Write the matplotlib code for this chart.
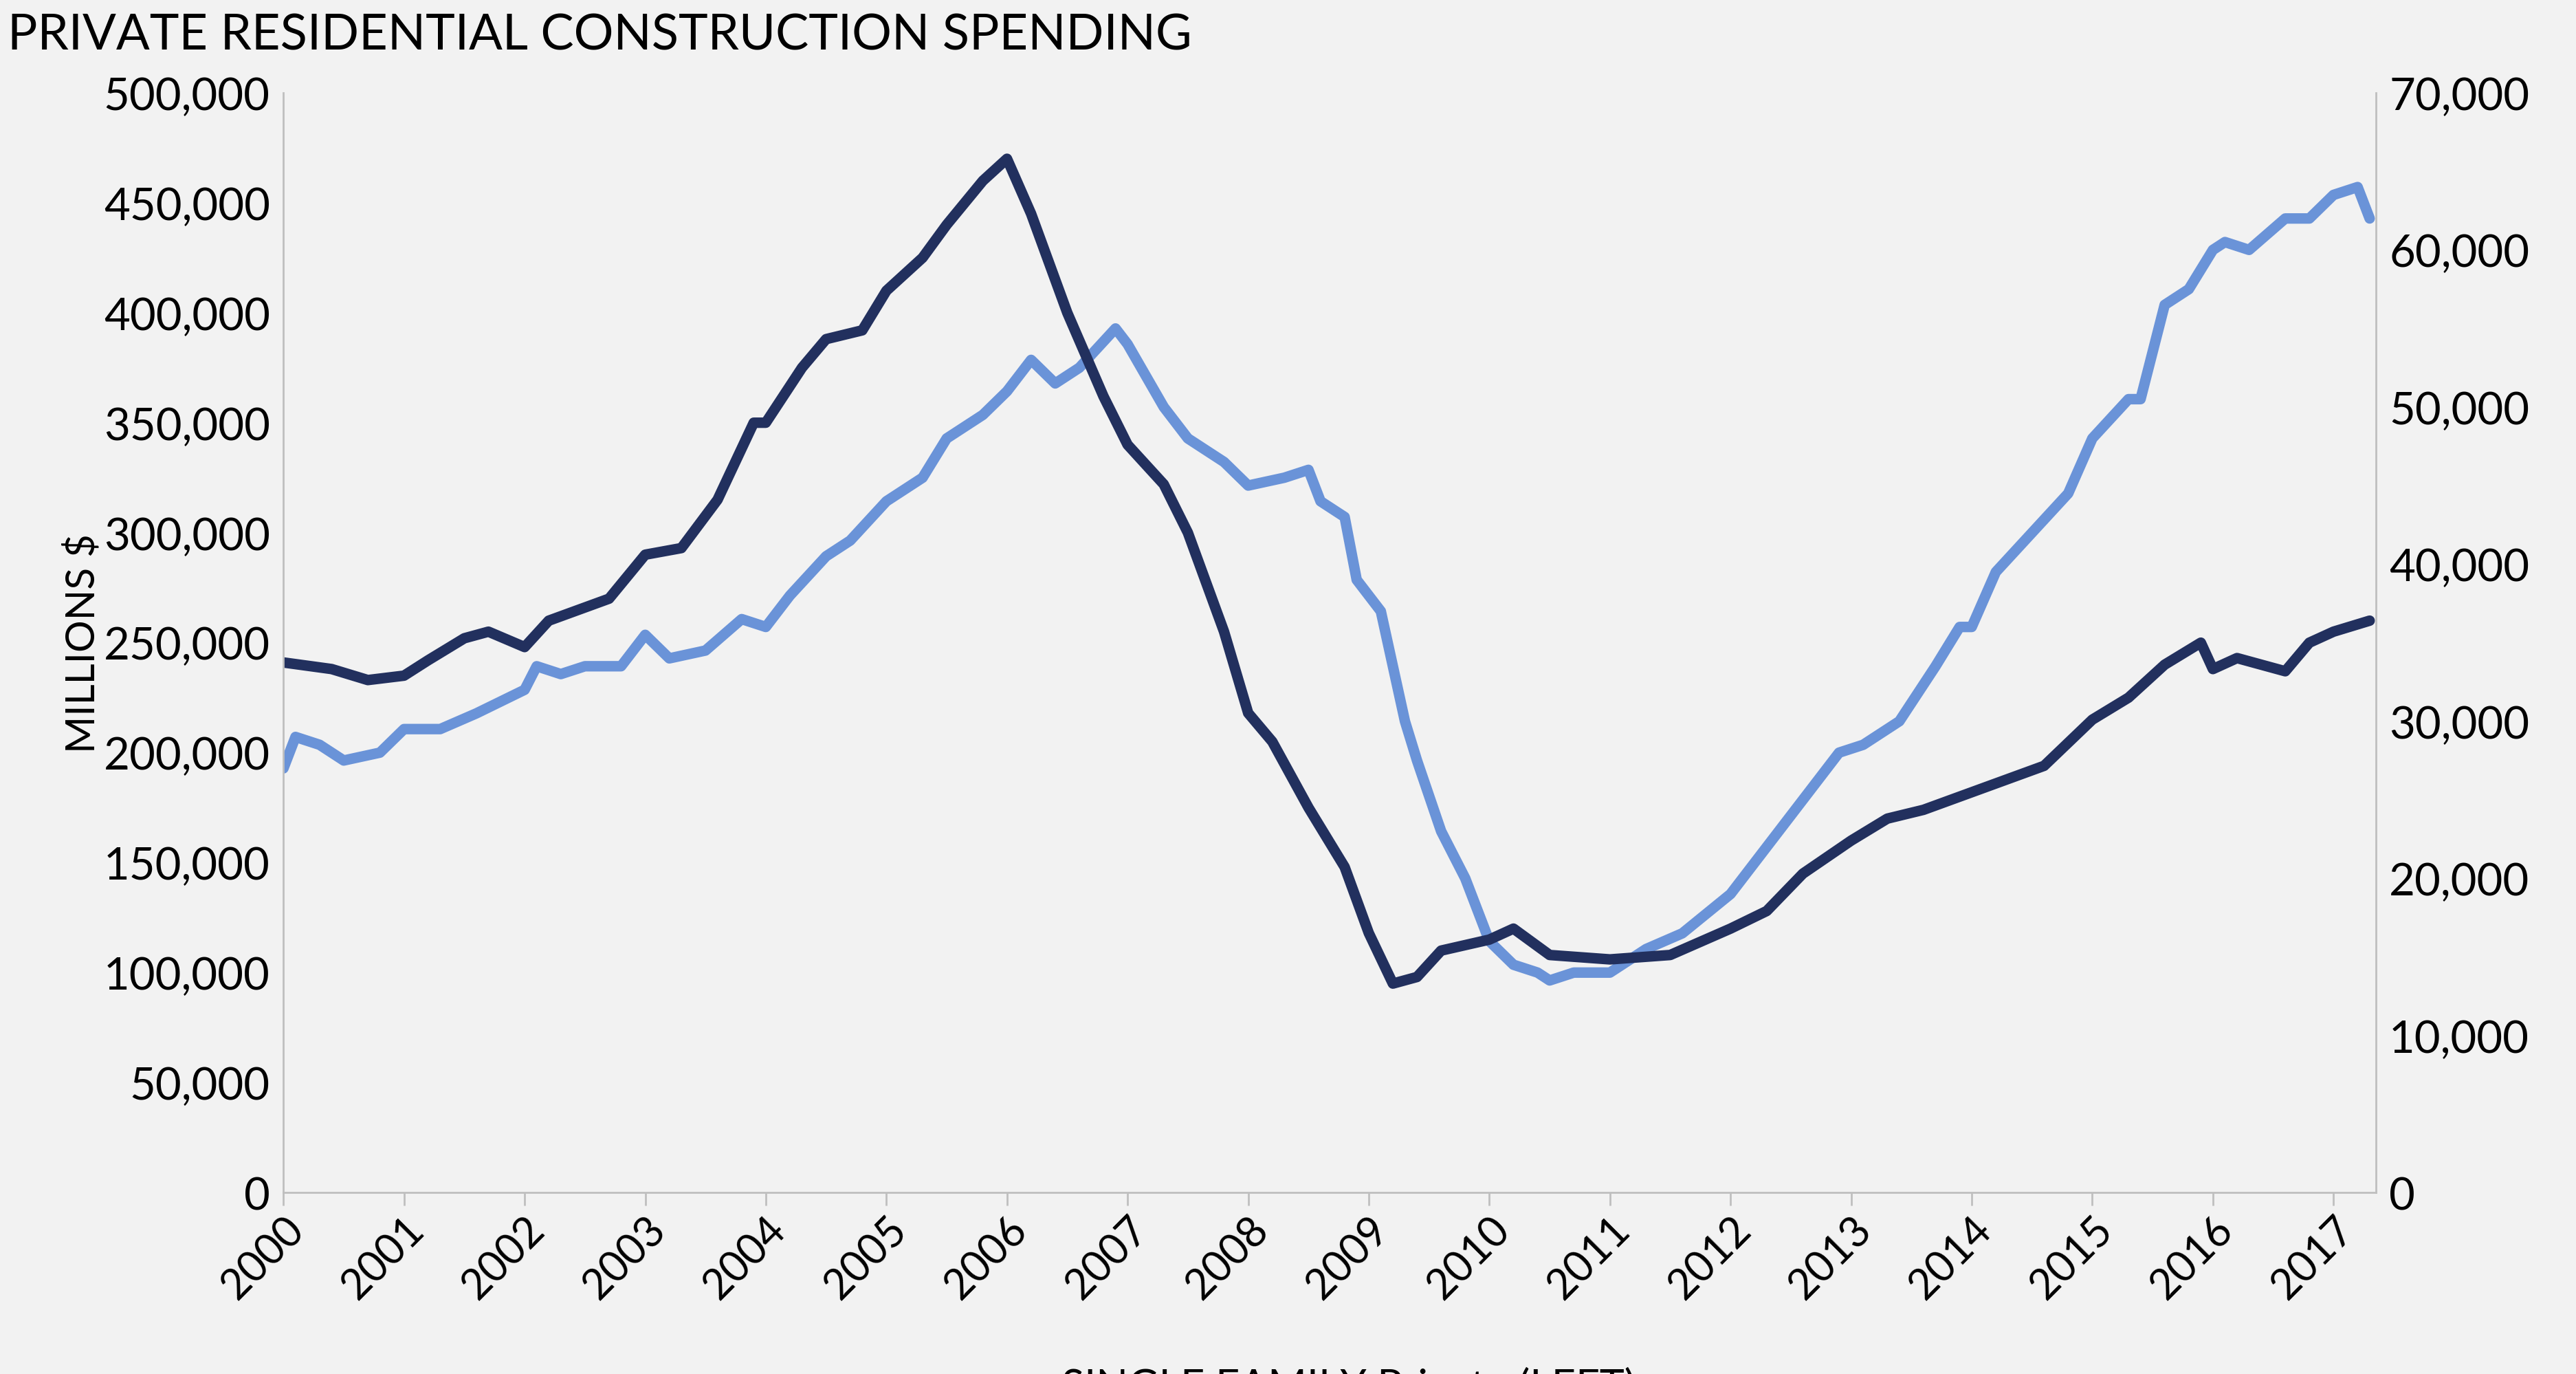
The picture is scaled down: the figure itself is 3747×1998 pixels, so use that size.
import matplotlib.pyplot as plt
from matplotlib.ticker import FuncFormatter

plt.rcParams['font.family'] = ['Lato', 'DejaVu Sans']

# single family (left axis), millions $
sf_t = [2000.0, 2000.4, 2000.7, 2001.0, 2001.2, 2001.5, 2001.7, 2002.0, 2002.2, 2002.5,
        2002.7, 2003.0, 2003.3, 2003.6, 2003.9, 2004.0, 2004.3, 2004.5, 2004.8, 2005.0,
        2005.3, 2005.5, 2005.8, 2006.0, 2006.2, 2006.5, 2006.8, 2007.0, 2007.3, 2007.5,
        2007.8, 2008.0, 2008.2, 2008.5, 2008.8, 2009.0, 2009.2, 2009.4, 2009.6, 2010.0,
        2010.2, 2010.5, 2011.0, 2011.5, 2012.0, 2012.3, 2012.6, 2013.0, 2013.3, 2013.6,
        2014.0, 2014.3, 2014.6, 2015.0, 2015.3, 2015.6, 2015.9, 2016.0, 2016.2, 2016.6,
        2016.8, 2017.0, 2017.3]
sf_v = [241, 238, 233, 235, 242, 252, 255, 248, 260, 266,
        270, 290, 293, 315, 350, 350, 375, 388, 392, 410,
        425, 440, 460, 470, 445, 400, 362, 340, 322, 300,
        255, 218, 205, 175, 148, 118, 95, 98, 110, 115,
        120, 108, 106, 108, 120, 128, 145, 160, 170, 174,
        182, 188, 194, 215, 225, 240, 250, 238, 243, 237,
        250, 255, 260]

# second series (right axis)
mf_t = [2000.0, 2000.1, 2000.3, 2000.5, 2000.8, 2001.0, 2001.3, 2001.6, 2002.0, 2002.1,
        2002.3, 2002.5, 2002.8, 2003.0, 2003.2, 2003.5, 2003.8, 2004.0, 2004.2, 2004.5,
        2004.7, 2005.0, 2005.3, 2005.5, 2005.8, 2006.0, 2006.2, 2006.4, 2006.6, 2006.9,
        2007.0, 2007.3, 2007.5, 2007.8, 2008.0, 2008.3, 2008.5, 2008.6, 2008.8, 2008.9,
        2009.1, 2009.3, 2009.4, 2009.6, 2009.8, 2010.0, 2010.2, 2010.4, 2010.5, 2010.7,
        2011.0, 2011.3, 2011.6, 2012.0, 2012.3, 2012.6, 2012.9, 2013.1, 2013.4, 2013.7,
        2013.9, 2014.0, 2014.2, 2014.5, 2014.8, 2015.0, 2015.3, 2015.4, 2015.6, 2015.8,
        2016.0, 2016.1, 2016.3, 2016.6, 2016.8, 2017.0, 2017.2, 2017.3]
mf_v = [27, 29, 28.5, 27.5, 28, 29.5, 29.5, 30.5, 32, 33.5,
        33, 33.5, 33.5, 35.5, 34, 34.5, 36.5, 36, 38, 40.5,
        41.5, 44, 45.5, 48, 49.5, 51, 53, 51.5, 52.5, 55,
        54, 50, 48, 46.5, 45, 45.5, 46, 44, 43, 39,
        37, 30, 27.5, 23, 20, 16, 14.5, 14, 13.5, 14,
        14, 15.5, 16.5, 19, 22, 25, 28, 28.5, 30, 33.5,
        36, 36, 39.5, 42, 44.5, 48, 50.5, 50.5, 56.5, 57.5,
        60, 60.5, 60, 62, 62, 63.5, 64, 62]

years = list(range(2000, 2018))
bg = '#f2f2f2'
dark = '#22305e'
light = '#6a93d8'

fig = plt.figure(figsize=(37.48, 19.99), dpi=100, facecolor=bg)
ax = fig.add_axes([0.110, 0.132, 0.812, 0.800], facecolor=bg)
ax2 = ax.twinx()

ax2.plot(mf_t, [v * 1000 for v in mf_v], color=light, lw=11, solid_capstyle='round',
         solid_joinstyle='round')
ax.plot(sf_t, [v * 1000 for v in sf_v], color=dark, lw=11, solid_capstyle='round',
        solid_joinstyle='round', label='SINGLE FAMILY Private (LEFT)')
ax.set_zorder(ax2.get_zorder() + 1)
ax.patch.set_visible(False)

ax.set_xlim(2000, 2017.35)
ax.set_ylim(0, 500000)
ax2.set_ylim(0, 70000)
ax.set_yticks(range(0, 500001, 50000))
ax2.set_yticks(range(0, 70001, 10000))
fmt = FuncFormatter(lambda v, p: f'{int(v):,}')
ax.yaxis.set_major_formatter(fmt)
ax2.yaxis.set_major_formatter(fmt)
ax.set_xticks(years)
ax.set_xticklabels([str(y) for y in years], rotation=45, ha='right', rotation_mode='anchor')

for a in (ax, ax2):
    for s in a.spines.values():
        s.set_visible(False)
    a.tick_params(labelsize=47, length=14, width=2, color='#bfbfbf')
ax.spines['left'].set_visible(True)
ax.spines['bottom'].set_visible(True)
ax2.spines['right'].set_visible(True)
for s in (ax.spines['left'], ax.spines['bottom'], ax2.spines['right']):
    s.set_color('#bfbfbf')
    s.set_linewidth(2)
ax.tick_params(axis='y', length=0, pad=14)
ax2.tick_params(axis='y', length=0, pad=14)
ax.tick_params(axis='x', labelsize=44)

ax.set_ylabel('MILLIONS $', fontsize=42, labelpad=2)
fig.text(0.003, 0.99, 'PRIVATE RESIDENTIAL CONSTRUCTION SPENDING', fontsize=52,
         va='top', ha='left')
ax.legend(loc='upper center', bbox_to_anchor=(0.5, -0.125), frameon=False, fontsize=44,
          handlelength=0.8, handletextpad=0.1)

fig.savefig('out.png', facecolor=bg)
